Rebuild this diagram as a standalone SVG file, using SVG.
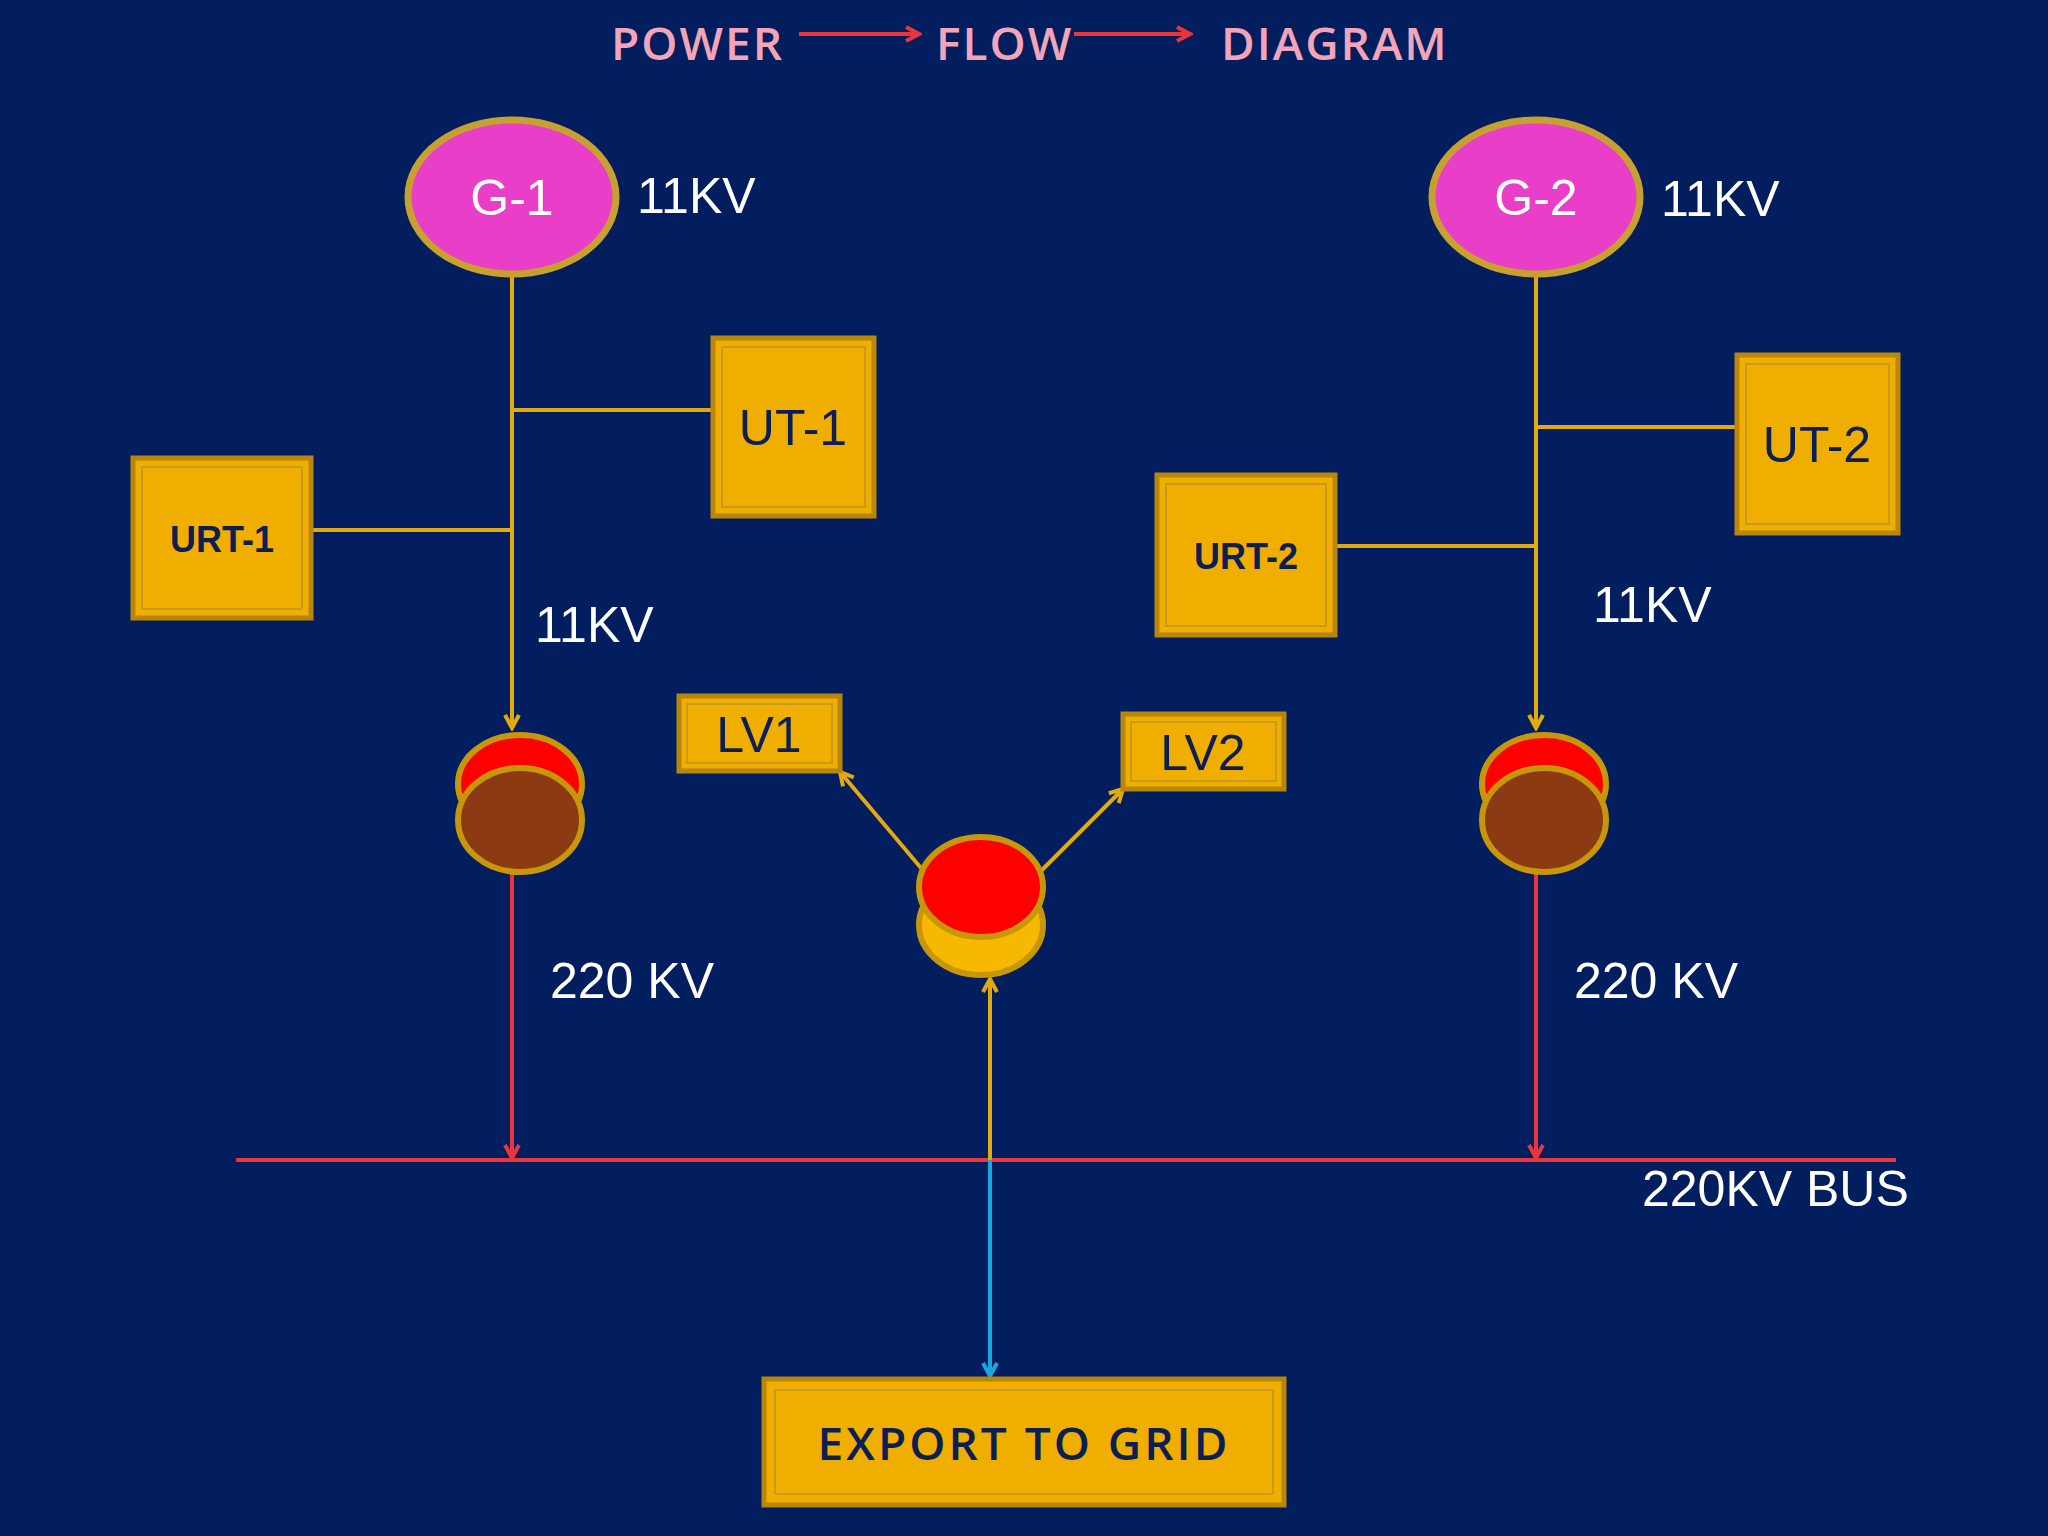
<svg xmlns="http://www.w3.org/2000/svg" width="2048" height="1536" viewBox="0 0 2048 1536">
<style>
.box{fill:#f0ae00;stroke:#b8860b;stroke-width:5}
.inner{fill:none;stroke:#c99a20;stroke-width:2}
.yl{stroke:#e2a910;stroke-width:4;fill:none}
.rl{stroke:#e8363a;stroke-width:4;fill:none}
.lbl{font-family:"Liberation Sans",Arial,sans-serif;font-size:50px;fill:#fff}
.bt{font-family:"Liberation Sans",Arial,sans-serif;font-size:50px;fill:#0b1f55;text-anchor:middle}
.btb{font-family:"Liberation Sans",Arial,sans-serif;font-size:36px;font-weight:bold;fill:#0b1f55;text-anchor:middle}
.title{font-family:"Open Sans","Liberation Sans",sans-serif;font-size:46px;font-weight:600;fill:#f2a5b8;letter-spacing:2px}
.gen{fill:#e83ec8;stroke:#c8a030;stroke-width:7}
</style>
<defs>
<marker id="ay" markerWidth="18" markerHeight="18" refX="15" refY="9" orient="auto" markerUnits="userSpaceOnUse"><path d="M2,2 L15,9 L2,16" fill="none" stroke="#e2a910" stroke-width="4"/></marker>
<marker id="ar" markerWidth="18" markerHeight="18" refX="15" refY="9" orient="auto" markerUnits="userSpaceOnUse"><path d="M2,2 L15,9 L2,16" fill="none" stroke="#e8363a" stroke-width="4"/></marker>
<marker id="ab" markerWidth="18" markerHeight="18" refX="15" refY="9" orient="auto" markerUnits="userSpaceOnUse"><path d="M2,2 L15,9 L2,16" fill="none" stroke="#1aa7e0" stroke-width="4"/></marker>
</defs>
<rect width="2048" height="1536" fill="#021e5f"/>
<g id="title">
<text class="title" x="611" y="60">POWER</text>
<text class="title" x="936" y="60">FLOW</text>
<text class="title" x="1221" y="60">DIAGRAM</text>
</g>
<g id="connectors">
<line class="rl" x1="799" y1="34" x2="919" y2="34" marker-end="url(#ar)"/>
<line class="rl" x1="1074" y1="34" x2="1190" y2="34" marker-end="url(#ar)"/>
<line class="yl" x1="512" y1="274" x2="512" y2="728" marker-end="url(#ay)"/>
<line class="yl" x1="512" y1="410" x2="713" y2="410"/>
<line class="yl" x1="311" y1="530" x2="512" y2="530"/>
<line class="yl" x1="1536" y1="274" x2="1536" y2="728" marker-end="url(#ay)"/>
<line class="yl" x1="1536" y1="427" x2="1737" y2="427"/>
<line class="yl" x1="1335" y1="546" x2="1536" y2="546"/>
<line class="rl" x1="512" y1="872" x2="512" y2="1158" marker-end="url(#ar)"/>
<line class="rl" x1="1536" y1="872" x2="1536" y2="1158" marker-end="url(#ar)"/>
<line class="rl" x1="236" y1="1160" x2="1896" y2="1160"/>
<line class="yl" x1="990" y1="1160" x2="990" y2="979" marker-end="url(#ay)"/>
<line class="yl" x1="921" y1="868" x2="840" y2="772" marker-end="url(#ay)"/>
<line class="yl" x1="1041" y1="871" x2="1123" y2="789" marker-end="url(#ay)"/>
<line x1="990" y1="1160" x2="990" y2="1376" stroke="#1aa7e0" stroke-width="4" marker-end="url(#ab)"/>
</g>
<g id="G-1"><ellipse class="gen" cx="512" cy="197" rx="104" ry="77"/><text class="lbl" x="512" y="215" text-anchor="middle">G-1</text><text class="lbl" x="637" y="213">11KV</text></g>
<g id="G-2"><ellipse class="gen" cx="1536" cy="197" rx="104" ry="77"/><text class="lbl" x="1536" y="215" text-anchor="middle">G-2</text><text class="lbl" x="1661" y="216">11KV</text></g>
<g id="UT-1"><rect class="box" x="713" y="338" width="161" height="178"/><rect class="inner" x="722" y="347" width="143" height="160"/><text class="bt" x="793" y="445">UT-1</text></g>
<g id="URT-1"><rect class="box" x="133" y="458" width="178" height="160"/><rect class="inner" x="142" y="467" width="160" height="142"/><text class="btb" x="222" y="552">URT-1</text></g>
<g id="UT-2"><rect class="box" x="1737" y="355" width="161" height="178"/><rect class="inner" x="1746" y="364" width="143" height="160"/><text class="bt" x="1817" y="462">UT-2</text></g>
<g id="URT-2"><rect class="box" x="1157" y="475" width="178" height="160"/><rect class="inner" x="1166" y="484" width="160" height="142"/><text class="btb" x="1246" y="569">URT-2</text></g>
<g id="labels">
<text class="lbl" x="535" y="642">11KV</text>
<text class="lbl" x="1593" y="622">11KV</text>
<text class="lbl" x="550" y="998">220 KV</text>
<text class="lbl" x="1574" y="998">220 KV</text>
<text class="lbl" x="1642" y="1206">220KV BUS</text>
</g>
<g id="T-1"><ellipse cx="520" cy="784" rx="62" ry="49" fill="#ff0000" stroke="#c8960a" stroke-width="6"/><ellipse cx="520" cy="820" rx="62" ry="52" fill="#8b3a12" stroke="#c8960a" stroke-width="6"/></g>
<g id="T-2"><ellipse cx="1544" cy="784" rx="62" ry="49" fill="#ff0000" stroke="#c8960a" stroke-width="6"/><ellipse cx="1544" cy="820" rx="62" ry="52" fill="#8b3a12" stroke="#c8960a" stroke-width="6"/></g>
<g id="T-3"><ellipse cx="981" cy="925" rx="62" ry="50" fill="#f7b800" stroke="#c8960a" stroke-width="6"/><ellipse cx="981" cy="887" rx="62" ry="50" fill="#ff0000" stroke="#c8960a" stroke-width="6"/></g>
<g id="LV1"><rect class="box" x="679" y="696" width="161" height="75"/><rect class="inner" x="687" y="704" width="145" height="59"/><text class="bt" x="759" y="752">LV1</text></g>
<g id="LV2"><rect class="box" x="1123" y="714" width="161" height="75"/><rect class="inner" x="1131" y="722" width="145" height="59"/><text class="bt" x="1203" y="770">LV2</text></g>
<g id="EXPORT"><rect class="box" x="764" y="1379" width="520" height="126"/><rect class="inner" x="775" y="1390" width="498" height="104"/><text x="1024" y="1460" text-anchor="middle" font-family="'Open Sans','Liberation Sans',sans-serif" font-size="46" font-weight="600" fill="#0b1f55" letter-spacing="3">EXPORT TO GRID</text></g>
</svg>
